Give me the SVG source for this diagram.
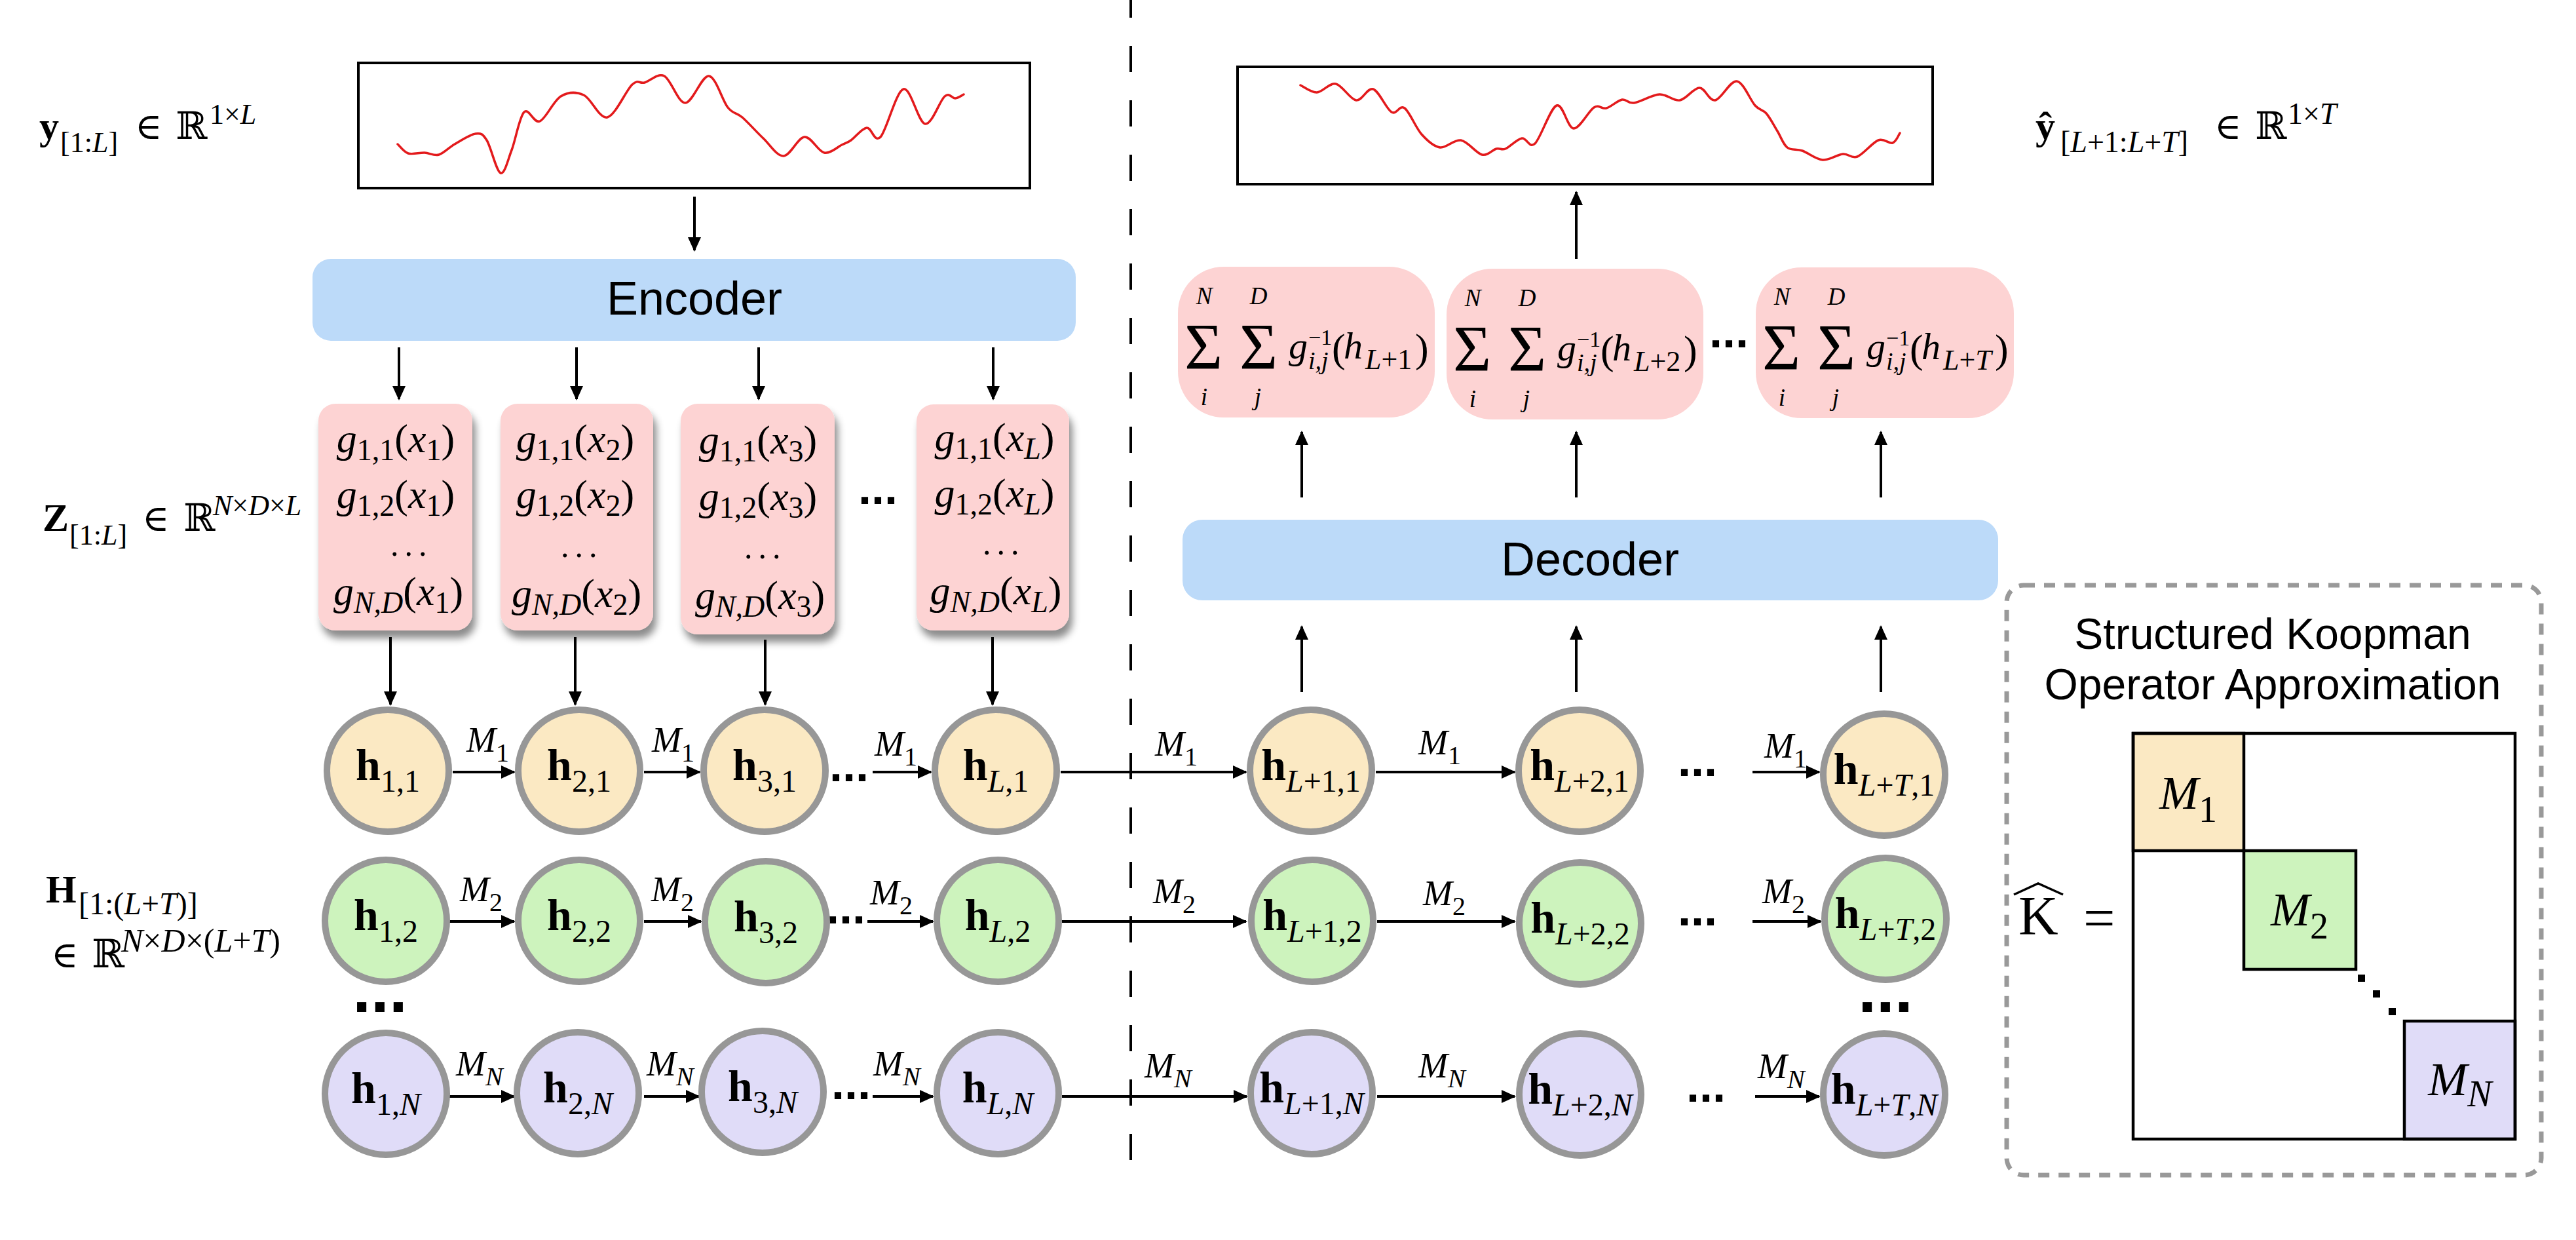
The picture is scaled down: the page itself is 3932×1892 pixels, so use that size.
<svg xmlns="http://www.w3.org/2000/svg" width="3932" height="1892" viewBox="0 0 3932 1892">
<defs>
<style>
.m{font-family:"Liberation Serif","DejaVu Serif",serif}
.s{font-family:"Liberation Sans","DejaVu Sans",sans-serif}
.i{font-style:italic}
.b{font-weight:bold}
.arr{stroke:#000;stroke-width:4;fill:none;marker-end:url(#ah)}
.ln{stroke:#000;stroke-width:4;fill:none}
.c1{fill:#fbe9c3;stroke:#979797;stroke-width:10}
.c2{fill:#cdf3bd;stroke:#979797;stroke-width:10}
.c3{fill:#e0dcf8;stroke:#979797;stroke-width:10}
.pk{fill:#fdd3d3}
.bl{fill:#bcdaf9}
.plot{fill:#fff;stroke:#000;stroke-width:4}
.curve{fill:none;stroke:#e31a1c;stroke-width:3.5;stroke-linejoin:round;stroke-linecap:round}
.ht{font-family:"Liberation Serif","DejaVu Serif",serif;font-size:68px}
.hs{font-size:48px;font-weight:normal}
.ml{font-family:"Liberation Serif","DejaVu Serif",serif;font-size:54px}
.gt{font-family:"Liberation Serif","DejaVu Serif",serif;font-size:62px}
.gs{font-size:46px}
.gd{font-family:"Liberation Serif","DejaVu Serif",serif;font-size:50px;letter-spacing:9px}
.sig{font-family:"Liberation Serif","DejaVu Serif",serif;font-size:100px}
.lim{font-family:"Liberation Serif","DejaVu Serif",serif;font-style:italic;font-size:37px}
.sg{font-family:"Liberation Serif","DejaVu Serif",serif;font-style:italic;font-size:58px}
.sup{font-family:"Liberation Serif","DejaVu Serif",serif;font-size:34px}
.sub{font-family:"Liberation Serif","DejaVu Serif",serif;font-style:italic;font-size:38px}
.par{font-family:"Liberation Serif","DejaVu Serif",serif;font-size:62px}
.hsub{font-family:"Liberation Serif","DejaVu Serif",serif;font-size:44px}
.dots{font-family:"Liberation Sans","DejaVu Sans",sans-serif;font-weight:bold;font-size:72px}
.vdots{font-family:"Liberation Sans","DejaVu Sans",sans-serif;font-weight:bold;font-size:100px}
.blk{stroke:#000;stroke-width:4.5}
</style>
<marker id="ah" viewBox="0 0 22 20" refX="20" refY="10" markerWidth="22" markerHeight="20" markerUnits="userSpaceOnUse" orient="auto"><path d="M0,0L22,10L0,20z" fill="#000"/></marker>
<filter id="sh" x="-20%" y="-20%" width="150%" height="150%"><feDropShadow dx="5" dy="12" stdDeviation="6" flood-color="#000" flood-opacity="0.45"/></filter>
</defs>
<rect width="3932" height="1892" fill="#fff"/>

<g id="labels">
<text class="m" y="212"><tspan x="60" class="b" font-size="60">y</tspan><tspan x="92" y="232" font-size="44">[1:<tspan class="i">L</tspan>]</tspan><tspan x="206" y="212" font-size="56">∈</tspan><tspan x="268" font-size="58">ℝ</tspan><tspan x="320" y="189" font-size="44">1×<tspan class="i">L</tspan></tspan></text>
<text class="m" y="810"><tspan x="65" class="b" font-size="60">Z</tspan><tspan x="106" y="831" font-size="44">[1:<tspan class="i">L</tspan>]</tspan><tspan x="217" y="810" font-size="56">∈</tspan><tspan x="280" font-size="58">ℝ</tspan><tspan x="325" y="786" font-size="44"><tspan class="i">N</tspan>×<tspan class="i">D</tspan>×<tspan class="i">L</tspan></tspan></text>
<text class="m" y="1377"><tspan x="70" class="b" font-size="60">H</tspan><tspan x="120" y="1395" font-size="48">[1:(<tspan class="i">L</tspan>+<tspan class="i">T</tspan>)]</tspan></text>
<text class="m" y="1476"><tspan x="78" font-size="56">∈</tspan><tspan x="140" font-size="60">ℝ</tspan><tspan x="185" y="1452" font-size="50"><tspan class="i">N</tspan>×<tspan class="i">D</tspan>×(<tspan class="i">L</tspan>+<tspan class="i">T</tspan>)</tspan></text>
<text class="m" y="212"><tspan x="3107" class="b" font-size="60">ŷ</tspan><tspan x="3145" y="232" font-size="46">[<tspan class="i">L</tspan>+1:<tspan class="i">L</tspan>+<tspan class="i">T</tspan>]</tspan><tspan x="3380" y="212" font-size="56">∈</tspan><tspan x="3442" font-size="58">ℝ</tspan><tspan x="3492" y="189" font-size="46">1×<tspan class="i">T</tspan></tspan></text>
</g>

<g id="input-plot">
<rect class="plot" x="547" y="96" width="1025" height="191"/>
<path class="curve" d="M607,220 C609.7,222.3 616.2,231.8 623,234 S640.2,232.7 648,233 S662.3,238.2 670,236 S684.7,225.3 694,220 S717.8,205 726,204 S736.7,204 743,214 S757.7,261.5 764,264 S775,244.5 781,229 S792.8,178.3 800,171 S814.7,189 824,185 S844.8,153.7 856,147 S879.2,139.7 891,145 S914.7,181.7 927,179 S955.5,137.8 965,129 S975.8,128.2 984,126 S1003.7,110.8 1014,116 S1034.7,157 1046,157 S1071.2,114.8 1082,116 S1102.5,153.5 1111,164 S1124,171.2 1133,179 S1154.5,201.2 1165,211 S1185.5,238.3 1196,238 S1217.7,209.8 1228,209 S1248.5,231 1258,233 S1278.2,224.2 1285,221 S1292.7,218.3 1299,214 S1315.5,195.8 1323,195 S1334.7,218.8 1344,209 S1367.7,139.3 1379,136 S1401.5,187.2 1412,189 S1434.3,153.5 1442,147 S1453.2,150.5 1458,150 S1468.8,145 1471,144"/>
</g>
<g id="output-plot">
<rect class="plot" x="1889" y="102" width="1061" height="179"/>
<path class="curve" d="M1985,130 C1989.2,131.8 2001,141.3 2010,141 S2029,126 2039,128 S2060.5,151.7 2070,153 S2087,133 2096,136 S2116,166.2 2124,171 S2136.3,159.3 2144,165 S2161,195 2170,205 S2188,223.5 2198,225 S2219.3,212.2 2230,214 S2253,233.8 2262,236 S2278,228.5 2284,227 S2291.5,229.7 2298,227 S2315.5,212.3 2323,211 S2334.2,227.3 2343,219 S2366.2,164.8 2376,161 S2392.5,195.5 2402,196 S2424.7,169.2 2433,164 S2444.8,167 2452,165 S2469,153.3 2476,152 S2484.5,158.3 2494,157 S2521.3,144.7 2533,144 S2553.8,154.7 2564,153 S2585,134 2594,134 S2608.5,154.7 2618,153 S2640.8,122.7 2651,124 S2671.5,152.8 2679,161 S2690.3,166.5 2696,173 S2707.7,191.3 2713,200 S2721.7,220 2728,225 S2742,226.8 2751,230 S2771.7,243.2 2782,244 S2804.2,235.8 2813,235 S2826,242.5 2835,239 S2858,217.5 2867,214 S2883.5,219.8 2889,218 S2898.2,205.5 2900,203"/>
</g>

<g id="encoder"><rect class="bl" x="477" y="395" width="1165" height="125" rx="28"/><text class="s" x="1060" y="480" font-size="72" text-anchor="middle">Encoder</text></g>
<g id="decoder"><rect class="bl" x="1805" y="793" width="1245" height="123" rx="30"/><text class="s" x="2427" y="878" font-size="72" text-anchor="middle">Decoder</text></g>

<g id="z1"><rect class="pk" filter="url(#sh)" x="486" y="616" width="235" height="346" rx="26"/>
<text class="gt" x="604" y="690" text-anchor="middle"><tspan class="i">g</tspan><tspan class="gs" dy="12">1,1</tspan><tspan dy="-12">(</tspan><tspan class="i">x</tspan><tspan class="gs" dy="12">1</tspan><tspan dy="-12">)</tspan></text>
<text class="gt" x="604" y="775" text-anchor="middle"><tspan class="i">g</tspan><tspan class="gs" dy="12">1,2</tspan><tspan dy="-12">(</tspan><tspan class="i">x</tspan><tspan class="gs" dy="12">1</tspan><tspan dy="-12">)</tspan></text>
<text class="gd" x="596" y="848">...</text>
<text class="gt" x="608" y="923" text-anchor="middle"><tspan class="i">g</tspan><tspan class="gs i" dy="12">N,D</tspan><tspan dy="-12">(</tspan><tspan class="i">x</tspan><tspan class="gs" dy="12">1</tspan><tspan dy="-12">)</tspan></text></g>
<g id="z2"><rect class="pk" filter="url(#sh)" x="764" y="616" width="233" height="346" rx="26"/>
<text class="gt" x="878" y="690" text-anchor="middle"><tspan class="i">g</tspan><tspan class="gs" dy="12">1,1</tspan><tspan dy="-12">(</tspan><tspan class="i">x</tspan><tspan class="gs" dy="12">2</tspan><tspan dy="-12">)</tspan></text>
<text class="gt" x="878" y="775" text-anchor="middle"><tspan class="i">g</tspan><tspan class="gs" dy="12">1,2</tspan><tspan dy="-12">(</tspan><tspan class="i">x</tspan><tspan class="gs" dy="12">2</tspan><tspan dy="-12">)</tspan></text>
<text class="gd" x="856" y="850">...</text>
<text class="gt" x="880" y="926" text-anchor="middle"><tspan class="i">g</tspan><tspan class="gs i" dy="12">N,D</tspan><tspan dy="-12">(</tspan><tspan class="i">x</tspan><tspan class="gs" dy="12">2</tspan><tspan dy="-12">)</tspan></text></g>
<g id="z3"><rect class="pk" filter="url(#sh)" x="1039" y="616" width="235" height="352" rx="26"/>
<text class="gt" x="1157" y="692" text-anchor="middle"><tspan class="i">g</tspan><tspan class="gs" dy="12">1,1</tspan><tspan dy="-12">(</tspan><tspan class="i">x</tspan><tspan class="gs" dy="12">3</tspan><tspan dy="-12">)</tspan></text>
<text class="gt" x="1157" y="778" text-anchor="middle"><tspan class="i">g</tspan><tspan class="gs" dy="12">1,2</tspan><tspan dy="-12">(</tspan><tspan class="i">x</tspan><tspan class="gs" dy="12">3</tspan><tspan dy="-12">)</tspan></text>
<text class="gd" x="1136" y="852">...</text>
<text class="gt" x="1160" y="929" text-anchor="middle"><tspan class="i">g</tspan><tspan class="gs i" dy="12">N,D</tspan><tspan dy="-12">(</tspan><tspan class="i">x</tspan><tspan class="gs" dy="12">3</tspan><tspan dy="-12">)</tspan></text></g>
<g id="zL"><rect class="pk" filter="url(#sh)" x="1399" y="617" width="233" height="345" rx="26"/>
<text class="gt" x="1518" y="688" text-anchor="middle"><tspan class="i">g</tspan><tspan class="gs" dy="12">1,1</tspan><tspan dy="-12">(</tspan><tspan class="i">x</tspan><tspan class="gs i" dy="12">L</tspan><tspan dy="-12">)</tspan></text>
<text class="gt" x="1518" y="773" text-anchor="middle"><tspan class="i">g</tspan><tspan class="gs" dy="12">1,2</tspan><tspan dy="-12">(</tspan><tspan class="i">x</tspan><tspan class="gs i" dy="12">L</tspan><tspan dy="-12">)</tspan></text>
<text class="gd" x="1500" y="846">...</text>
<text class="gt" x="1520" y="922" text-anchor="middle"><tspan class="i">g</tspan><tspan class="gs i" dy="12">N,D</tspan><tspan dy="-12">(</tspan><tspan class="i">x</tspan><tspan class="gs i" dy="12">L</tspan><tspan dy="-12">)</tspan></text></g>

<g id="s1"><rect class="pk" x="1798" y="407" width="392" height="230" rx="70"/>
<text class="sig" x="1808" y="562">Σ</text><text class="sig" x="1892" y="562">Σ</text>
<text class="lim" x="1838" y="464" text-anchor="middle">N</text><text class="lim" x="1921" y="464" text-anchor="middle">D</text>
<text class="lim" x="1838" y="618" text-anchor="middle">i</text><text class="lim" x="1920" y="618" text-anchor="middle">j</text>
<text class="sg" x="1967" y="547">g</text><text class="sup" x="1997" y="526">−1</text><text class="sub" x="1997" y="563">i,j</text>
<text class="par" x="2033" y="552">(</text><text class="sg" x="2051" y="547">h</text><text class="hsub" x="2084" y="563"><tspan class="i">L</tspan>+1</text><text class="par" x="2160" y="552">)</text></g>
<g id="s2"><rect class="pk" x="2208" y="410" width="392" height="230" rx="70"/>
<text class="sig" x="2218" y="565">Σ</text><text class="sig" x="2302" y="565">Σ</text>
<text class="lim" x="2248" y="467" text-anchor="middle">N</text><text class="lim" x="2331" y="467" text-anchor="middle">D</text>
<text class="lim" x="2248" y="621" text-anchor="middle">i</text><text class="lim" x="2330" y="621" text-anchor="middle">j</text>
<text class="sg" x="2377" y="550">g</text><text class="sup" x="2407" y="529">−1</text><text class="sub" x="2407" y="566">i,j</text>
<text class="par" x="2443" y="555">(</text><text class="sg" x="2461" y="550">h</text><text class="hsub" x="2494" y="566"><tspan class="i">L</tspan>+2</text><text class="par" x="2570" y="555">)</text></g>
<g id="sT"><rect class="pk" x="2680" y="408" width="394" height="230" rx="70"/>
<text class="sig" x="2690" y="563">Σ</text><text class="sig" x="2774" y="563">Σ</text>
<text class="lim" x="2720" y="465" text-anchor="middle">N</text><text class="lim" x="2803" y="465" text-anchor="middle">D</text>
<text class="lim" x="2720" y="619" text-anchor="middle">i</text><text class="lim" x="2802" y="619" text-anchor="middle">j</text>
<text class="sg" x="2849" y="548">g</text><text class="sup" x="2879" y="527">−1</text><text class="sub" x="2879" y="564">i,j</text>
<text class="par" x="2915" y="553">(</text><text class="sg" x="2933" y="548">h</text><text class="hsub" x="2966" y="564"><tspan class="i">L</tspan>+<tspan class="i">T</tspan></text><text class="par" x="3045" y="553">)</text></g>

<g id="connectors">
<path class="ln" d="M1726,-13V1770" stroke-width="6.5" stroke-dasharray="40 43"/>
<path class="arr" d="M1060,300V382"/>
<path class="arr" d="M609,530V609"/><path class="arr" d="M880,530V609"/><path class="arr" d="M1158,530V609"/><path class="arr" d="M1516,530V609"/>
<path class="arr" d="M596,972V1075"/><path class="arr" d="M878,972V1075"/><path class="arr" d="M1168,976V1075"/><path class="arr" d="M1515,972V1075"/>
<path class="arr" d="M1987,1056V956"/><path class="arr" d="M2406,1056V956"/><path class="arr" d="M2871,1056V956"/>
<path class="arr" d="M1987,759V659"/><path class="arr" d="M2406,759V659"/><path class="arr" d="M2871,759V659"/>
<path class="arr" d="M2406,395V293"/>
<path class="arr" d="M691,1178H785"/><path class="arr" d="M983,1178H1068"/><path class="arr" d="M1332,1178H1421"/><path class="arr" d="M1619,1178H1902"/><path class="arr" d="M2100,1178H2312"/><path class="arr" d="M2675,1178H2777"/>
<path class="arr" d="M686,1406H785"/><path class="arr" d="M983,1406H1070"/><path class="arr" d="M1324,1406H1424"/><path class="arr" d="M1621,1406H1902"/><path class="arr" d="M2102,1406H2312"/><path class="arr" d="M2675,1406H2779"/>
<path class="arr" d="M686,1673H785"/><path class="arr" d="M983,1673H1067"/><path class="arr" d="M1332,1673H1424"/><path class="arr" d="M1621,1673H1903"/><path class="arr" d="M2102,1673H2312"/><path class="arr" d="M2679,1673H2777"/>
</g>

<g id="edge-labels">
<text class="ml" x="712" y="1147"><tspan class="i">M</tspan><tspan font-size="40" dy="15">1</tspan></text>
<text class="ml" x="995" y="1147"><tspan class="i">M</tspan><tspan font-size="40" dy="15">1</tspan></text>
<text class="ml" x="1335" y="1153"><tspan class="i">M</tspan><tspan font-size="40" dy="15">1</tspan></text>
<text class="ml" x="1763" y="1153"><tspan class="i">M</tspan><tspan font-size="40" dy="15">1</tspan></text>
<text class="ml" x="2165" y="1151"><tspan class="i">M</tspan><tspan font-size="40" dy="15">1</tspan></text>
<text class="ml" x="2693" y="1156"><tspan class="i">M</tspan><tspan font-size="40" dy="15">1</tspan></text>
<text class="ml" x="702" y="1375"><tspan class="i">M</tspan><tspan font-size="40" dy="15">2</tspan></text>
<text class="ml" x="994" y="1375"><tspan class="i">M</tspan><tspan font-size="40" dy="15">2</tspan></text>
<text class="ml" x="1328" y="1380"><tspan class="i">M</tspan><tspan font-size="40" dy="15">2</tspan></text>
<text class="ml" x="1760" y="1378"><tspan class="i">M</tspan><tspan font-size="40" dy="15">2</tspan></text>
<text class="ml" x="2172" y="1381"><tspan class="i">M</tspan><tspan font-size="40" dy="15">2</tspan></text>
<text class="ml" x="2690" y="1378"><tspan class="i">M</tspan><tspan font-size="40" dy="15">2</tspan></text>
<text class="ml" x="696" y="1641"><tspan class="i">M</tspan><tspan class="i" font-size="40" dy="15">N</tspan></text>
<text class="ml" x="987" y="1641"><tspan class="i">M</tspan><tspan class="i" font-size="40" dy="15">N</tspan></text>
<text class="ml" x="1333" y="1641"><tspan class="i">M</tspan><tspan class="i" font-size="40" dy="15">N</tspan></text>
<text class="ml" x="1747" y="1644"><tspan class="i">M</tspan><tspan class="i" font-size="40" dy="15">N</tspan></text>
<text class="ml" x="2165" y="1644"><tspan class="i">M</tspan><tspan class="i" font-size="40" dy="15">N</tspan></text>
<text class="ml" x="2683" y="1645"><tspan class="i">M</tspan><tspan class="i" font-size="40" dy="15">N</tspan></text>
</g>

<g id="ellipses">
<text class="dots" x="1266" y="1192">...</text><text class="dots" x="2561" y="1184">...</text>
<text class="dots" x="1261" y="1409">...</text><text class="dots" x="2561" y="1412">...</text>
<text class="dots" x="1269" y="1677">...</text><text class="dots" x="2574" y="1681">...</text>
<text class="vdots" x="580" y="1544" text-anchor="middle">...</text>
<text class="vdots" x="2878" y="1544" text-anchor="middle">...</text>
<text class="dots" x="1310" y="769">...</text>
<text class="dots" x="2609" y="530">...</text>
</g>

<g id="h_1_1"><circle class="c1" cx="592" cy="1176" r="93"/><text class="ht" x="592" y="1190" text-anchor="middle"><tspan class="b">h</tspan><tspan class="hs" dy="18">1,1</tspan></text></g>
<g id="h_2_1"><circle class="c1" cx="884" cy="1176" r="93"/><text class="ht" x="884" y="1190" text-anchor="middle"><tspan class="b">h</tspan><tspan class="hs" dy="18">2,1</tspan></text></g>
<g id="h_3_1"><circle class="c1" cx="1167" cy="1176" r="93"/><text class="ht" x="1167" y="1190" text-anchor="middle"><tspan class="b">h</tspan><tspan class="hs" dy="18">3,1</tspan></text></g>
<g id="h_L_1"><circle class="c1" cx="1520" cy="1176" r="93"/><text class="ht" x="1520" y="1190" text-anchor="middle"><tspan class="b">h</tspan><tspan class="hs" dy="18"><tspan class="i">L</tspan>,1</tspan></text></g>
<g id="h_L1_1"><circle class="c1" cx="2001" cy="1176" r="93"/><text class="ht" x="2001" y="1190" text-anchor="middle"><tspan class="b">h</tspan><tspan class="hs" dy="18"><tspan class="i">L</tspan>+1,1</tspan></text></g>
<g id="h_L2_1"><circle class="c1" cx="2411" cy="1176" r="93"/><text class="ht" x="2411" y="1190" text-anchor="middle"><tspan class="b">h</tspan><tspan class="hs" dy="18"><tspan class="i">L</tspan>+2,1</tspan></text></g>
<g id="h_LT_1"><circle class="c1" cx="2876" cy="1182" r="93"/><text class="ht" x="2876" y="1196" text-anchor="middle"><tspan class="b">h</tspan><tspan class="hs" dy="18"><tspan class="i">L</tspan>+<tspan class="i">T</tspan>,1</tspan></text></g>

<g id="h_1_2"><circle class="c2" cx="589" cy="1405" r="93"/><text class="ht" x="589" y="1419" text-anchor="middle"><tspan class="b">h</tspan><tspan class="hs" dy="18">1,2</tspan></text></g>
<g id="h_2_2"><circle class="c2" cx="884" cy="1405" r="93"/><text class="ht" x="884" y="1419" text-anchor="middle"><tspan class="b">h</tspan><tspan class="hs" dy="18">2,2</tspan></text></g>
<g id="h_3_2"><circle class="c2" cx="1169" cy="1407" r="93"/><text class="ht" x="1169" y="1421" text-anchor="middle"><tspan class="b">h</tspan><tspan class="hs" dy="18">3,2</tspan></text></g>
<g id="h_L_2"><circle class="c2" cx="1523" cy="1405" r="93"/><text class="ht" x="1523" y="1419" text-anchor="middle"><tspan class="b">h</tspan><tspan class="hs" dy="18"><tspan class="i">L</tspan>,2</tspan></text></g>
<g id="h_L1_2"><circle class="c2" cx="2003" cy="1405" r="93"/><text class="ht" x="2003" y="1419" text-anchor="middle"><tspan class="b">h</tspan><tspan class="hs" dy="18"><tspan class="i">L</tspan>+1,2</tspan></text></g>
<g id="h_L2_2"><circle class="c2" cx="2412" cy="1409" r="93"/><text class="ht" x="2412" y="1423" text-anchor="middle"><tspan class="b">h</tspan><tspan class="hs" dy="18"><tspan class="i">L</tspan>+2,2</tspan></text></g>
<g id="h_LT_2"><circle class="c2" cx="2878" cy="1402" r="93"/><text class="ht" x="2878" y="1416" text-anchor="middle"><tspan class="b">h</tspan><tspan class="hs" dy="18"><tspan class="i">L</tspan>+<tspan class="i">T</tspan>,2</tspan></text></g>

<g id="h_1_N"><circle class="c3" cx="589" cy="1669" r="93"/><text class="ht" x="589" y="1683" text-anchor="middle"><tspan class="b">h</tspan><tspan class="hs" dy="18">1,<tspan class="i">N</tspan></tspan></text></g>
<g id="h_2_N"><circle class="c3" cx="882" cy="1668" r="93"/><text class="ht" x="882" y="1682" text-anchor="middle"><tspan class="b">h</tspan><tspan class="hs" dy="18">2,<tspan class="i">N</tspan></tspan></text></g>
<g id="h_3_N"><circle class="c3" cx="1164" cy="1666" r="93"/><text class="ht" x="1164" y="1680" text-anchor="middle"><tspan class="b">h</tspan><tspan class="hs" dy="18">3,<tspan class="i">N</tspan></tspan></text></g>
<g id="h_L_N"><circle class="c3" cx="1523" cy="1668" r="93"/><text class="ht" x="1523" y="1682" text-anchor="middle"><tspan class="b">h</tspan><tspan class="hs" dy="18"><tspan class="i">L</tspan>,<tspan class="i">N</tspan></tspan></text></g>
<g id="h_L1_N"><circle class="c3" cx="2002" cy="1668" r="93"/><text class="ht" x="2002" y="1682" text-anchor="middle"><tspan class="b">h</tspan><tspan class="hs" dy="18"><tspan class="i">L</tspan>+1,<tspan class="i">N</tspan></tspan></text></g>
<g id="h_L2_N"><circle class="c3" cx="2412" cy="1670" r="93"/><text class="ht" x="2412" y="1684" text-anchor="middle"><tspan class="b">h</tspan><tspan class="hs" dy="18"><tspan class="i">L</tspan>+2,<tspan class="i">N</tspan></tspan></text></g>
<g id="h_LT_N"><circle class="c3" cx="2876" cy="1670" r="93"/><text class="ht" x="2876" y="1684" text-anchor="middle"><tspan class="b">h</tspan><tspan class="hs" dy="18"><tspan class="i">L</tspan>+<tspan class="i">T</tspan>,<tspan class="i">N</tspan></tspan></text></g>

<g id="koopman">
<rect x="3063" y="893" width="816" height="900" rx="26" fill="none" stroke="#999" stroke-width="7" stroke-dasharray="17 14"/>
<text class="s" x="3469" y="990" font-size="66" text-anchor="middle">Structured Koopman</text>
<text class="s" x="3469" y="1067" font-size="66" text-anchor="middle">Operator Approximation</text>
<text class="m" x="3081" y="1426" font-size="84">K</text>
<path d="M3074,1365L3111,1348L3149,1365" fill="none" stroke="#000" stroke-width="3.5"/>
<text class="m" x="3180" y="1430" font-size="86">=</text>
<rect x="3256" y="1119" width="583" height="619" fill="#fff"/>
<rect class="blk" x="3256" y="1119" width="169" height="179" fill="#fbe9c3"/>
<rect class="blk" x="3425" y="1298" width="171" height="181" fill="#cdf3bd"/>
<rect class="blk" x="3670" y="1558" width="169" height="180" fill="#e0dcf8"/>
<rect class="blk" x="3256" y="1119" width="583" height="619" fill="none"/>
<rect x="3599" y="1487" width="11" height="11"/><rect x="3622" y="1511" width="11" height="11"/><rect x="3646" y="1538" width="11" height="11"/>
<text class="m" x="3340" y="1234" font-size="72" text-anchor="middle"><tspan class="i">M</tspan><tspan font-size="56" dy="20">1</tspan></text>
<text class="m" x="3510" y="1412" font-size="72" text-anchor="middle"><tspan class="i">M</tspan><tspan font-size="56" dy="20">2</tspan></text>
<text class="m" x="3755" y="1671" font-size="72" text-anchor="middle"><tspan class="i">M</tspan><tspan class="i" font-size="56" dy="17">N</tspan></text>
</g>
</svg>
